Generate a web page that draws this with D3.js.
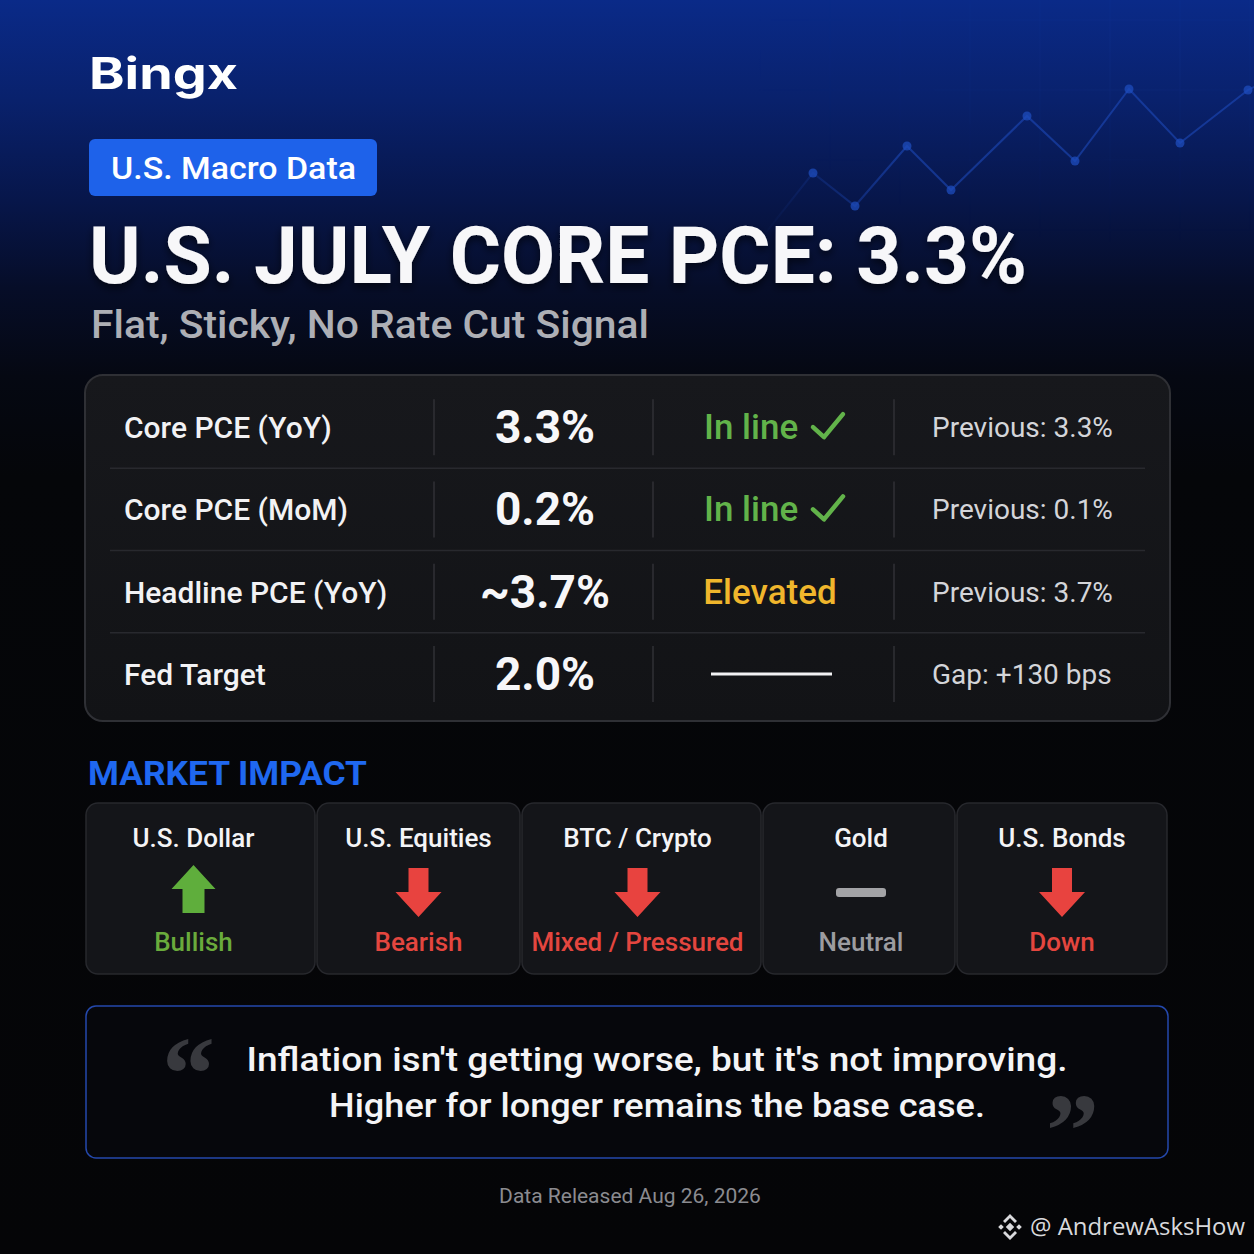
<!DOCTYPE html>
<html>
<head>
<meta charset="utf-8">
<script src="https://cdn.jsdelivr.net/npm/d3@7"></script>
<style>
  html, body { margin: 0; padding: 0; background: #050507; }
  svg { display: block; }
</style>
</head>
<body>
<svg id="chart" width="1254" height="1254"></svg>
<script>
'use strict';

// ---- data ----
const rowLabels = ['Core PCE (YoY)', 'Core PCE (MoM)', 'Headline PCE (YoY)', 'Fed Target'];
const rowValues = ['3.3%', '0.2%', '~3.7%', '2.0%'];
const rowStatus = ['In line', 'In line', 'Elevated', ''];
const rowStatusKind = ['ok', 'ok', 'warn', 'none'];
const rowPrevious = ['Previous: 3.3%', 'Previous: 0.1%', 'Previous: 3.7%', 'Gap: +130 bps'];

const marketNames = ['U.S. Dollar', 'U.S. Equities', 'BTC / Crypto', 'Gold', 'U.S. Bonds'];
const marketSignals = ['Bullish', 'Bearish', 'Mixed / Pressured', 'Neutral', 'Down'];
const marketDirection = ['up', 'down', 'down', 'flat', 'down'];

// decorative trend line in the header
const trendSteps = [0, 53, 95, 147, 191, 267, 315, 369, 420, 488, 520];
const trendValues = [1.0, 4.35, 2.7, 5.7, 3.5, 7.2, 4.95, 8.55, 5.85, 8.5, 9.3];

const quoteLines = [
  "Inflation isn't getting worse, but it's not improving.",
  'Higher for longer remains the base case.',
];

// ---- setup ----
const W = 1254, H = 1254;
const svg = d3.select('#chart');
const defs = svg.append('defs');
const FONT = 'Roboto, "Noto Sans", sans-serif';

const colors = {
  ok: '#62b34a',
  warn: '#f0b62c',
  up: '#5fae3c',
  down: '#e8433f',
  flat: '#a3a3a6',
  blue: '#1f68f0',
};

// background gradient
const bg = defs.append('linearGradient').attr('id', 'bg')
  .attr('x1', 0).attr('y1', 0).attr('x2', 0).attr('y2', 1);
bg.append('stop').attr('offset', '0%').attr('stop-color', '#0a2a88');
bg.append('stop').attr('offset', '8%').attr('stop-color', '#09216c');
bg.append('stop').attr('offset', '16%').attr('stop-color', '#07164a');
bg.append('stop').attr('offset', '23%').attr('stop-color', '#060d28');
bg.append('stop').attr('offset', '30%').attr('stop-color', '#050812');
bg.append('stop').attr('offset', '38%').attr('stop-color', '#050609');
bg.append('stop').attr('offset', '100%').attr('stop-color', '#050507');
svg.append('rect').attr('width', W).attr('height', H).attr('fill', 'url(#bg)');

// faint grid in the header, fading out
const gridFade = defs.append('radialGradient').attr('id', 'gridFade')
  .attr('cx', '0.8').attr('cy', '0.2').attr('r', '0.6');
gridFade.append('stop').attr('offset', '0%').attr('stop-color', '#fff').attr('stop-opacity', 1);
gridFade.append('stop').attr('offset', '100%').attr('stop-color', '#fff').attr('stop-opacity', 0);
defs.append('mask').attr('id', 'gridMask')
  .append('rect').attr('x', 600).attr('y', 0).attr('width', 654).attr('height', 320)
  .attr('fill', 'url(#gridFade)');
const grid = svg.append('g').attr('mask', 'url(#gridMask)')
  .attr('stroke', '#4a78ff').attr('stroke-opacity', 0.06).attr('stroke-width', 1);
grid.selectAll('line.v').data(d3.range(620, W, 70)).join('line')
  .attr('x1', d => d).attr('x2', d => d).attr('y1', 0).attr('y2', 320);
grid.selectAll('line.h').data(d3.range(20, 320, 70)).join('line')
  .attr('x1', 600).attr('x2', W).attr('y1', d => d).attr('y2', d => d);

// trend line
const tx = d3.scaleLinear().domain([0, 520]).range([760, 1280]);
const ty = d3.scaleLinear().domain([0, 10]).range([260, 60]);
const trendFade = defs.append('linearGradient').attr('id', 'trendFade')
  .attr('gradientUnits', 'userSpaceOnUse')
  .attr('x1', 760).attr('y1', 0).attr('x2', 900).attr('y2', 0);
trendFade.append('stop').attr('offset', '0%').attr('stop-color', '#1e4cc0').attr('stop-opacity', 0);
trendFade.append('stop').attr('offset', '100%').attr('stop-color', '#1e4cc0').attr('stop-opacity', 0.55);
const trendPts = trendSteps.map((s, i) => [tx(s), ty(trendValues[i])]);
svg.append('path')
  .attr('d', d3.line()(trendPts))
  .attr('fill', 'none')
  .attr('stroke', 'url(#trendFade)')
  .attr('stroke-width', 2);
svg.append('g').selectAll('circle')
  .data(trendPts.slice(1, -1))
  .join('circle')
  .attr('cx', d => d[0]).attr('cy', d => d[1]).attr('r', 4.5)
  .attr('fill', '#1d4cbc').attr('fill-opacity', 0.75);

// ---- header ----
svg.append('text')
  .attr('x', 89).attr('y', 89)
  .attr('font-family', 'Inter, ' + FONT)
  .attr('font-weight', 700).attr('font-size', 44)
  .attr('fill', '#ffffff')
  .attr('textLength', 149).attr('lengthAdjust', 'spacingAndGlyphs')
  .text('Bingx');

svg.append('rect')
  .attr('x', 89).attr('y', 139).attr('width', 288).attr('height', 57).attr('rx', 6)
  .attr('fill', '#1e62ea');
svg.append('text')
  .attr('x', 111).attr('y', 179)
  .attr('font-family', FONT).attr('font-weight', 500).attr('font-size', 31)
  .attr('fill', '#ffffff')
  .attr('textLength', 245).attr('lengthAdjust', 'spacingAndGlyphs')
  .text('U.S. Macro Data');

const shadow = defs.append('filter').attr('id', 'shadow')
  .attr('x', '-5%').attr('y', '-20%').attr('width', '110%').attr('height', '150%');
shadow.append('feDropShadow').attr('dx', 0).attr('dy', 4).attr('stdDeviation', 4)
  .attr('flood-color', '#000').attr('flood-opacity', 0.6);

svg.append('text')
  .attr('x', 89).attr('y', 283)
  .attr('font-family', FONT).attr('font-weight', 700).attr('font-size', 80)
  .attr('fill', '#f7f7f9')
  .attr('filter', 'url(#shadow)')
  .attr('textLength', 938).attr('lengthAdjust', 'spacingAndGlyphs')
  .text('U.S. JULY CORE PCE: 3.3%');

svg.append('text')
  .attr('x', 91).attr('y', 338)
  .attr('font-family', FONT).attr('font-weight', 500).attr('font-size', 38)
  .attr('fill', '#adafb5')
  .attr('textLength', 558).attr('lengthAdjust', 'spacingAndGlyphs')
  .text('Flat, Sticky, No Rate Cut Signal');

// ---- data table ----
const panelGrad = defs.append('linearGradient').attr('id', 'panel')
  .attr('x1', 0).attr('y1', 0).attr('x2', 0).attr('y2', 1);
panelGrad.append('stop').attr('offset', '0%').attr('stop-color', '#17181c');
panelGrad.append('stop').attr('offset', '100%').attr('stop-color', '#121316');

svg.append('rect')
  .attr('x', 85).attr('y', 375).attr('width', 1085).attr('height', 346).attr('rx', 18)
  .attr('fill', 'url(#panel)').attr('stroke', '#2f3035').attr('stroke-width', 2);

const rowY = d3.scaleBand().domain(rowLabels).range([386, 715]);
const colX = d3.scaleOrdinal()
  .domain(['label', 'value', 'status', 'previous'])
  .range([124, 545, 770, 932]);
const sepX = [434, 653, 894];

const rows = svg.append('g').selectAll('g.row')
  .data(rowLabels.map((label, i) => ({
    label, value: rowValues[i], status: rowStatus[i],
    kind: rowStatusKind[i], previous: rowPrevious[i], i,
  })))
  .join('g')
  .attr('transform', d => `translate(0,${rowY(d.label) + rowY.bandwidth() / 2})`);

// horizontal dividers between rows
rows.filter(d => d.i > 0).append('line')
  .attr('x1', 110).attr('x2', 1145)
  .attr('y1', -rowY.bandwidth() / 2).attr('y2', -rowY.bandwidth() / 2)
  .attr('stroke', '#28292e').attr('stroke-width', 1.5);

// vertical separators
rows.selectAll('line.sep').data(sepX).join('line')
  .attr('class', 'sep')
  .attr('x1', d => d).attr('x2', d => d).attr('y1', -28).attr('y2', 28)
  .attr('stroke', '#303136').attr('stroke-width', 1.5);

rows.append('text')
  .attr('x', colX('label')).attr('y', 11)
  .attr('font-family', FONT).attr('font-weight', 500).attr('font-size', 30)
  .attr('fill', '#f2f2f4')
  .text(d => d.label);

rows.append('text')
  .attr('x', colX('value')).attr('y', 16)
  .attr('text-anchor', 'middle')
  .attr('font-family', FONT).attr('font-weight', 700).attr('font-size', 46)
  .attr('fill', '#f7f7f9')
  .text(d => d.value);

rows.filter(d => d.kind !== 'none').append('text')
  .attr('x', d => d.kind === 'ok' ? 704 : colX('status'))
  .attr('y', 12)
  .attr('text-anchor', d => d.kind === 'ok' ? 'start' : 'middle')
  .attr('font-family', FONT).attr('font-weight', 500).attr('font-size', 35)
  .attr('fill', d => colors[d.kind])
  .text(d => d.status);

// check marks
rows.filter(d => d.kind === 'ok').append('path')
  .attr('d', 'M813,0 L824,10 L843,-13')
  .attr('fill', 'none').attr('stroke', colors.ok)
  .attr('stroke-width', 4.5).attr('stroke-linecap', 'round').attr('stroke-linejoin', 'round');

// dash for the Fed target row
rows.filter(d => d.kind === 'none').append('line')
  .attr('x1', 711).attr('x2', 832).attr('y1', 0).attr('y2', 0)
  .attr('stroke', '#f2f2f4').attr('stroke-width', 3);

rows.append('text')
  .attr('x', colX('previous')).attr('y', 10)
  .attr('font-family', FONT).attr('font-weight', 400).attr('font-size', 28)
  .attr('fill', '#d4d5d9')
  .text(d => d.previous);

// ---- market impact ----
svg.append('text')
  .attr('x', 88).attr('y', 785)
  .attr('font-family', FONT).attr('font-weight', 700).attr('font-size', 33)
  .attr('fill', colors.blue)
  .attr('textLength', 279).attr('lengthAdjust', 'spacingAndGlyphs')
  .text('MARKET IMPACT');

const cardEdges = [[86, 315], [317, 520], [522, 761], [763, 955], [957, 1167]];
const cardShift = [-7, 0, -4, 2, 0];
const cardTop = 803, cardBottom = 974;

const cards = svg.append('g').selectAll('g.card')
  .data(marketNames.map((name, i) => ({
    name, signal: marketSignals[i], dir: marketDirection[i],
    x0: cardEdges[i][0], x1: cardEdges[i][1], shift: cardShift[i],
  })))
  .join('g')
  .attr('transform', d => `translate(${(d.x0 + d.x1) / 2},0)`);

cards.append('rect')
  .attr('x', d => -(d.x1 - d.x0) / 2).attr('y', cardTop)
  .attr('width', d => d.x1 - d.x0).attr('height', cardBottom - cardTop)
  .attr('rx', 12)
  .attr('fill', '#141519').attr('stroke', '#27282d').attr('stroke-width', 1.5);

const content = cards.append('g').attr('transform', d => `translate(${d.shift},0)`);

content.append('text')
  .attr('y', 847).attr('text-anchor', 'middle')
  .attr('font-family', FONT).attr('font-weight', 500).attr('font-size', 26)
  .attr('fill', '#f4f4f6')
  .text(d => d.name);

const upArrow = 'M0,865 L22,889 L11,889 L11,913 L-11,913 L-11,889 L-22,889 Z';
const downArrow = 'M-10,868 L10,868 L10,892 L23,892 L0,917 L-23,892 L-10,892 Z';

content.filter(d => d.dir === 'up').append('path')
  .attr('d', upArrow).attr('fill', colors.up);
content.filter(d => d.dir === 'down').append('path')
  .attr('d', downArrow).attr('fill', colors.down);
content.filter(d => d.dir === 'flat').append('rect')
  .attr('x', -25).attr('y', 888).attr('width', 50).attr('height', 9).attr('rx', 3)
  .attr('fill', colors.flat);

content.append('text')
  .attr('y', 951).attr('text-anchor', 'middle')
  .attr('font-family', FONT).attr('font-weight', 500).attr('font-size', 26)
  .attr('fill', d => d.dir === 'up' ? '#6aab3c' : d.dir === 'down' ? '#e4463f' : '#9c9ca0')
  .text(d => d.signal);

// ---- quote ----
svg.append('rect')
  .attr('x', 86).attr('y', 1006).attr('width', 1082).attr('height', 152).attr('rx', 10)
  .attr('fill', '#06070c').attr('stroke', '#2448ac').attr('stroke-width', 1.5);

svg.append('text')
  .attr('x', 162).attr('y', 1110)
  .attr('font-family', '"Liberation Serif", "DejaVu Serif", serif')
  .attr('font-weight', 700).attr('font-size', 106)
  .attr('fill', '#38393e')
  .text('\u201C');
svg.append('text')
  .attr('x', 1046).attr('y', 1167)
  .attr('font-family', '"Liberation Serif", "DejaVu Serif", serif')
  .attr('font-weight', 700).attr('font-size', 106)
  .attr('fill', '#38393e')
  .text('\u201D');

const quoteWidths = [821, 656];
const quoteY = d3.scalePoint().domain(d3.range(quoteLines.length)).range([1071, 1117]);
svg.append('g').selectAll('text')
  .data(quoteLines)
  .join('text')
  .attr('x', 657).attr('y', (d, i) => quoteY(i))
  .attr('text-anchor', 'middle')
  .attr('font-family', FONT).attr('font-weight', 500).attr('font-size', 34)
  .attr('fill', '#f4f4f6')
  .attr('textLength', (d, i) => quoteWidths[i]).attr('lengthAdjust', 'spacingAndGlyphs')
  .text(d => d);

// ---- footer ----
svg.append('text')
  .attr('x', 630).attr('y', 1203)
  .attr('text-anchor', 'middle')
  .attr('font-family', FONT).attr('font-weight', 400).attr('font-size', 21)
  .attr('fill', '#8b8b90')
  .text('Data Released Aug 26, 2026');

const logo = svg.append('g').attr('transform', 'translate(1010,1227)').attr('fill', '#d9d9dc');
logo.append('rect').attr('x', -3).attr('y', -3).attr('width', 6).attr('height', 6)
  .attr('transform', 'rotate(45)');
logo.append('rect').attr('x', -11).attr('y', -2).attr('width', 4).attr('height', 4)
  .attr('transform', 'rotate(45,-9,0)');
logo.append('rect').attr('x', 7).attr('y', -2).attr('width', 4).attr('height', 4)
  .attr('transform', 'rotate(45,9,0)');
logo.append('path').attr('d', 'M0,-13 L7,-6 L5,-4 L0,-9 L-5,-4 L-7,-6 Z');
logo.append('path').attr('d', 'M0,13 L7,6 L5,4 L0,9 L-5,4 L-7,6 Z');

svg.append('text')
  .attr('x', 1030).attr('y', 1235)
  .attr('font-family', '"Open Sans", "Noto Sans", sans-serif')
  .attr('font-weight', 400).attr('font-size', 23)
  .attr('fill', '#d9d9dc')
  .attr('textLength', 215).attr('lengthAdjust', 'spacingAndGlyphs')
  .text('@ AndrewAsksHow');
</script>
</body>
</html>
